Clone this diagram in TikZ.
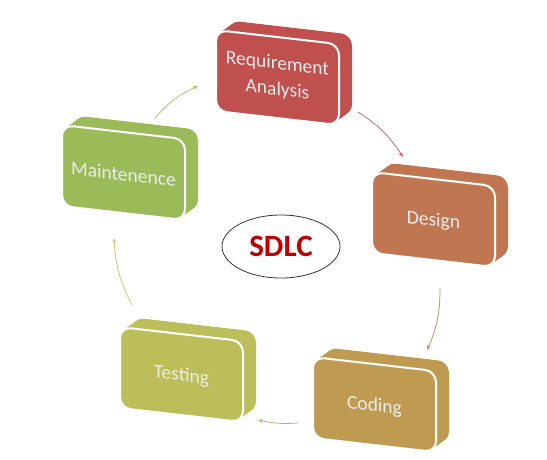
\documentclass[tikz,border=0pt]{standalone}
\usepackage{fontspec}
\setmainfont{Carlito}
\usetikzlibrary{arrows.meta,shapes.geometric}
\definecolor{cReq}{RGB}{192,80,77}
\definecolor{cDes}{RGB}{192,119,81}
\definecolor{cCod}{RGB}{191,155,82}
\definecolor{cTst}{RGB}{188,190,89}
\definecolor{cMnt}{RGB}{155,187,89}
\definecolor{sdlcred}{RGB}{192,0,0}
\tikzset{
  boxtext/.style={text=white!92!black, font=\fontsize{19.5}{26}\selectfont, align=center, inner sep=0pt},
  flowarrow/.style={line width=0.8pt, -{Stealth[length=5pt,width=4pt]}},
}
\newcommand\sdlcbox[6]{% x y color name text textshift
  \begin{scope}[shift={(#1,#2)}, yslant=-0.115]
    \foreach \i in {0,...,24}
      \fill[#3, rounded corners=11pt] ({13*\i/24},{-11*\i/24}) rectangle ({123+13*\i/24},{81-11*\i/24});
    \fill[#3, draw=white, line width=2pt, rounded corners=11pt] (0,0) rectangle (123,81);
    \node[boxtext, transform shape] (#4) at (61.5,#6) {#5};
  \end{scope}
}
\begin{document}
\begin{tikzpicture}[x=1pt,y=-1pt]
  \useasboundingbox (0,0) rectangle (547,459);
  \sdlcbox{216}{30}{cReq}{req}{Requirement\\Analysis}{40}
  \sdlcbox{372}{172}{cDes}{des}{Design}{42}
  \sdlcbox{313}{357}{cCod}{cod}{Coding}{42}
  \sdlcbox{120}{327}{cTst}{tst}{Testing}{42}
  \sdlcbox{62}{125}{cMnt}{mnt}{Maintenence}{42}

  \node[ellipse, draw=black!80, line width=0.8pt, minimum width=118pt, minimum height=63pt, inner sep=0pt,
        text=sdlcred, font=\bfseries\fontsize{31}{31}\selectfont] (sdlc) at (281,246.5) {SDLC};

  \coordinate (a1s) at (358,112); \coordinate (a1e) at (403,157);
  \coordinate (a2s) at (440,288); \coordinate (a2e) at (427,350);
  \coordinate (a3s) at (298,423); \coordinate (a3e) at (258,420);
  \coordinate (a4s) at (132,305); \coordinate (a4e) at (114,238);
  \coordinate (a5s) at (155,118); \coordinate (a5e) at (198,86);

  \draw[flowarrow, cReq!85!white] (a1s) to[bend left=12] (a1e);
  \draw[flowarrow, cDes!85!white] (a2s) to[bend left=12] (a2e);
  \draw[flowarrow, cCod!85!white] (a3s) to[bend left=8] (a3e);
  \draw[flowarrow, cTst!85!white] (a4s) to[bend left=12] (a4e);
  \draw[flowarrow, cMnt!85!white] (a5s) to[bend left=12] (a5e);
\end{tikzpicture}
\end{document}
